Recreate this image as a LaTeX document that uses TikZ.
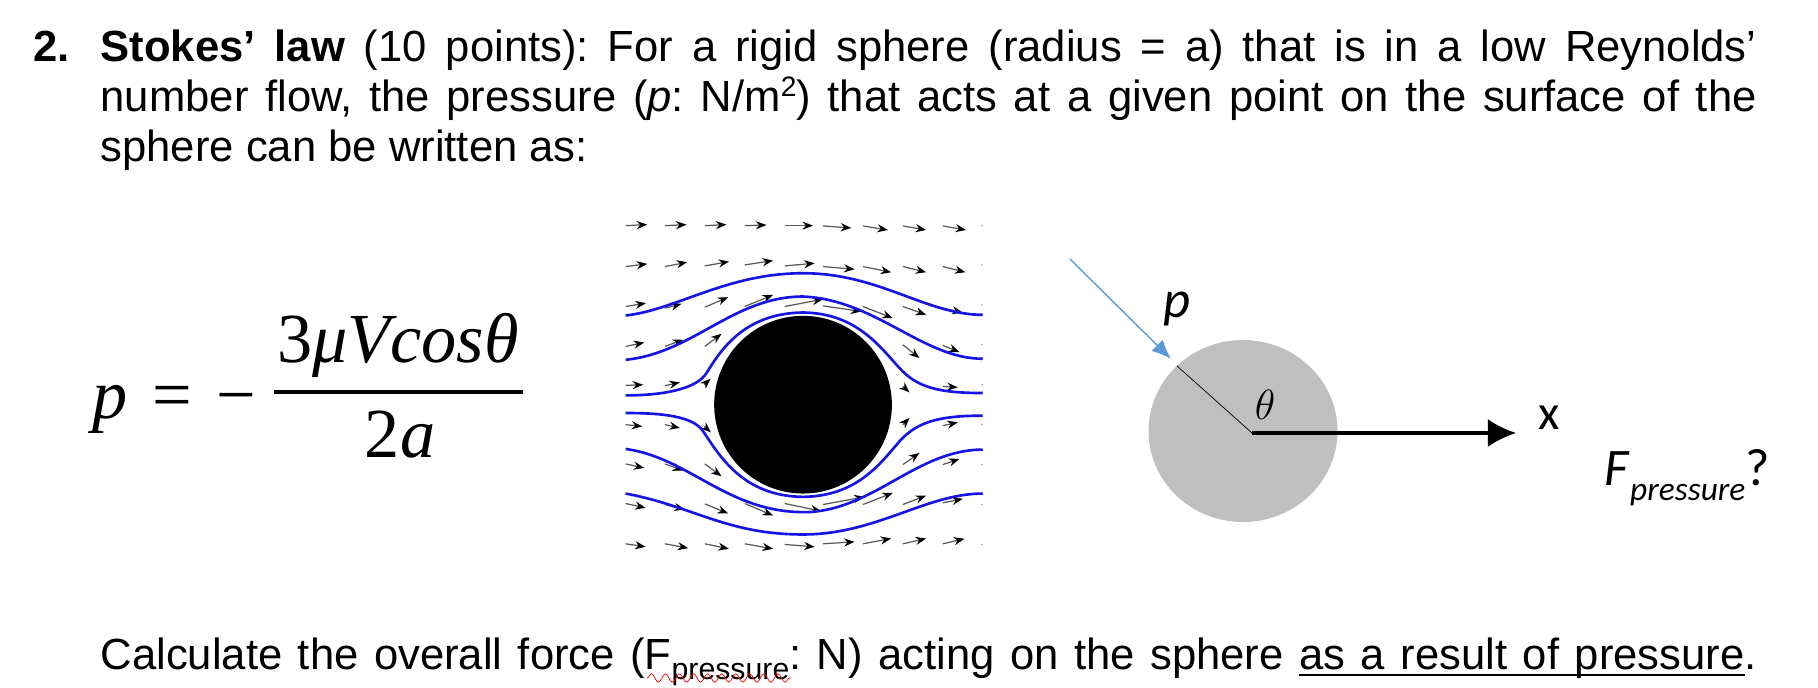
\documentclass[tikz,border=0pt]{standalone}
\usepackage{amsmath,amssymb}
\usepackage{fontspec}
\setmainfont{Liberation Sans}
\newfontfamily\labelfont{Carlito}
\newfontfamily\eqfont{Liberation Serif}
\usetikzlibrary{arrows, arrows.meta, decorations.pathmorphing}
\tikzset{>=latex}
\definecolor{mygray2}{RGB}{191, 191, 191}
\definecolor{myblue}{RGB}{91, 155, 213}
\definecolor{myline}{RGB}{20, 20, 230}
\tikzset{
bodytext/.style={inner sep=0pt, anchor=base west, font=\fontsize{12.4}{14.4}\selectfont\frenchspacing},
eqtext/.style={inner sep=0pt, anchor=base, font=\eqfont\fontsize{20}{24}\selectfont},
labeltext/.style={inner sep=0pt, font=\labelfont\fontsize{14}{17}\selectfont},
streamline/.style={myline, line width=0.75pt},
flowarrow/.style={black!65, line width=0.35pt, -{Stealth[length=3pt, width=2.3pt, black]}}
}
\begin{document}
\begin{tikzpicture}[x=0.01cm, y=-0.01cm]
\useasboundingbox (0,0) rectangle (1818,688);

\node[bodytext, font=\fontsize{12.4}{14.4}\selectfont\bfseries] (number) at (33,62) {2.};
\node[bodytext] (lineone) at (100,62) {\makebox[16.55cm][s]{\textbf{Stokes’ law} (10 points): For a rigid sphere (radius = a) that is in a low Reynolds’}};
\node[bodytext] (linetwo) at (100,112) {\makebox[16.55cm][s]{number flow, the pressure (\textit{p}: N/m\raisebox{0.36em}{\fontsize{8}{10}\selectfont 2}) that acts at a given point on the surface of the}};
\node[bodytext] (linethree) at (100,162) {sphere can be written as:};

% equation
\node[eqtext, anchor=base west] (eqleft) at (92,418) {\textit{p}\hspace{7pt}=\hspace{7pt}−};
\node[eqtext] (eqnum) at (398,363) {3\textit{μVcosθ}};
\node[eqtext] (eqden) at (400,457) {2\textit{a}};
\draw[line width=1pt] (274,392) -- (523,392);

% flow past the sphere
\begin{scope}[shift={(610,210)}, x=0.00333cm, y=-0.00333cm]
\foreach \x/\y/\u/\v in {
47/47/112/44, 165/47/230/44, 285/47/350/44, 405/47/470/45, 525/47/610/47, 640/48/725/54, 760/48/835/60, 880/48/950/60, 1000/48/1070/60,
47/170/112/162, 165/170/232/157, 285/168/358/155, 405/165/490/152, 525/168/615/160, 640/170/735/178, 760/170/845/187, 880/170/950/187, 1000/170/1068/187,
47/290/108/280, 165/295/215/282, 285/292/355/262, 405/290/490/255, 525/290/640/268, 640/288/755/305, 760/290/850/325, 880/290/950/315, 1000/295/1060/308,
47/410/103/398, 165/410/220/390, 285/410/335/372, 880/405/930/445, 1000/407/1050/427,
47/527/100/525, 165/528/210/518, 283/525/302/507, 880/530/900/548, 1000/530/1045/533,
47/645/97/650, 165/645/210/655, 283/650/303/668, 880/645/900/625, 1000/648/1045/638,
47/763/103/775, 165/763/220/783, 285/763/335/800, 880/765/930/730, 1000/765/1050/748,
47/882/107/895, 165/885/225/900, 285/883/355/912, 405/882/490/918, 525/882/635/905, 640/885/765/862, 760/885/850/850, 880/885/950/858, 1000/880/1060/868,
47/1003/107/1012, 165/1003/235/1016, 285/1003/357/1018, 405/1003/490/1018, 525/1005/615/1012, 640/1003/735/997, 760/1003/845/987, 880/1003/950/987, 1000/1003/1065/988}{
\draw[flowarrow] (\x,\y) -- (\u,\v);
}
\foreach \y in {47, 165, 285, 405, 525, 645, 765, 885, 1005}{
\fill[black!60] (1118,\y) circle (2);
}
\fill[black] (580,585) circle (267);
\draw[streamline] (47,317) .. controls (200,300) and (350,190) .. (580,190) .. controls (810,190) and (950,315) .. (1120,315);
\draw[streamline] (47,450) .. controls (250,430) and (370,260) .. (580,260) .. controls (800,270) and (940,447) .. (1120,447);
\draw[streamline] (47,557) .. controls (170,557) and (262,535) .. (290,490) .. controls (330,426) and (400,310) .. (580,308) .. controls (740,310) and (810,410) .. (870,475) .. controls (920,530) and (980,550) .. (1120,550);
\draw[streamline] (47,610) .. controls (160,610) and (250,620) .. (280,665) .. controls (330,740) and (400,860) .. (580,862) .. controls (740,860) and (810,765) .. (870,695) .. controls (920,640) and (980,618) .. (1120,618);
\draw[streamline] (47,718) .. controls (240,745) and (350,908) .. (585,908) .. controls (790,905) and (920,720) .. (1120,720);
\draw[streamline] (47,852) .. controls (250,890) and (350,975) .. (580,975) .. controls (800,975) and (950,852) .. (1120,852);
\end{scope}

% sphere with the pressure arrow
\fill[mygray2] (1243,431) ellipse (94.5 and 91);
\coordinate (centre) at (1252,433);
\coordinate (rim) at (1177,366);
\coordinate (pstart) at (1070,259);
\coordinate (ptip) at (1171,359);
\coordinate (xtip) at (1516,433);
\draw[line width=0.2pt] (centre) -- (rim);
\draw[myblue, line width=0.4pt, -{Latex[length=5.5pt, width=4.5pt]}] (pstart) -- (ptip);
\draw[line width=0.9pt, -{Latex[length=8pt, width=8pt]}] (centre) -- (xtip);
\node[labeltext, font=\labelfont\itshape\fontsize{15}{18}\selectfont] (plabel) at (1177,309) {p};
\node[inner sep=0pt, font=\fontsize{12.5}{15}\selectfont] (thetalabel) at (1265,405) {$\theta$};
\node[labeltext] (xlabel) at (1549,418) {x};
\node[labeltext, anchor=base west, font=\labelfont\fontsize{15}{18}\selectfont] (forcelabel) at (1604,485) {\textit{F}\raisebox{-0.3em}{\fontsize{9.5}{12}\selectfont\textit{pressure}}?};

% last line
\node[bodytext] (lastline) at (100,669) {\makebox[16.55cm][s]{Calculate the overall force (F\raisebox{-0.25em}{\fontsize{8.6}{10}\selectfont pressure}: N) acting on the sphere \underline{\smash{\makebox[4.45cm][s]{as a result of pressure}}}.}};
\draw[red, line width=0.2pt, decorate, decoration={snake, amplitude=1.2pt, segment length=4pt}] (647,678) -- (791,678);
\end{tikzpicture}
\end{document}
